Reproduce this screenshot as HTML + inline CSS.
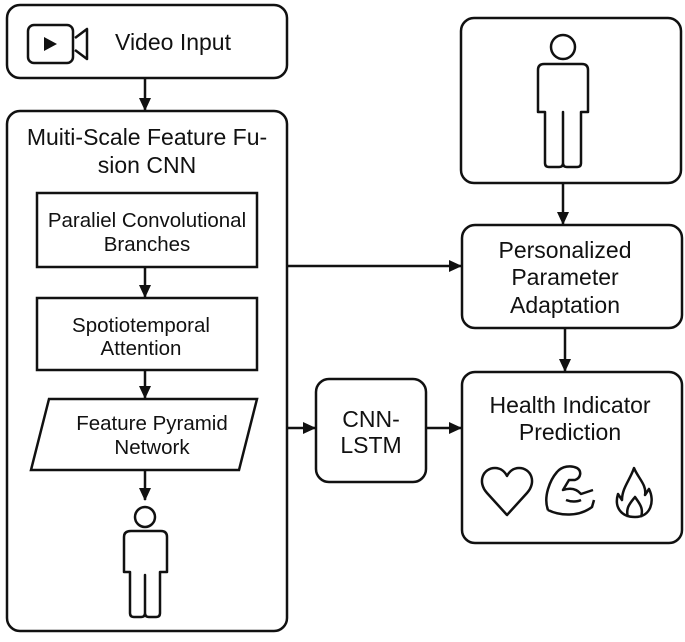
<!DOCTYPE html>
<html><head><style>
body{margin:0;background:#fff;}
svg text{font-family:"Liberation Sans",sans-serif;fill:#111;text-anchor:middle;}
</style></head><body>
<svg width="685" height="637" viewBox="0 0 685 637" xmlns="http://www.w3.org/2000/svg">
<defs><marker id="a" markerWidth="13" markerHeight="12" refX="12" refY="6" orient="auto" markerUnits="userSpaceOnUse"><path d="M0,0 L13,6 L0,12 z" fill="#111"/></marker></defs>
<g fill="none" stroke="#111" stroke-width="2.5">
<rect x="7" y="5" width="280" height="73" rx="13"/>
<rect x="7" y="111" width="280" height="520" rx="13"/>
<rect x="37" y="193" width="220" height="74"/>
<rect x="37" y="298" width="220" height="72"/>
<path d="M49,399 L257,399 L239,470 L31,470 Z"/>
<rect x="461" y="18" width="220" height="165" rx="13"/>
<rect x="462" y="225" width="220" height="103" rx="13"/>
<rect x="462" y="372" width="220" height="171" rx="13"/>
<rect x="316" y="379" width="110" height="103" rx="13"/>
</g>
<g stroke="#111" stroke-width="2.5" marker-end="url(#a)">
<line x1="145" y1="78" x2="145" y2="110"/>
<line x1="145" y1="267" x2="145" y2="297"/>
<line x1="145" y1="370" x2="145" y2="398"/>
<line x1="145" y1="470" x2="145" y2="500"/>
<line x1="563" y1="183" x2="563" y2="224"/>
<line x1="565" y1="328" x2="565" y2="371"/>
<line x1="287" y1="266" x2="461" y2="266"/>
<line x1="287" y1="428" x2="315" y2="428"/>
<line x1="426" y1="428" x2="461" y2="428"/>
</g>
<!-- camera -->
<g fill="none" stroke="#111" stroke-width="2.5" stroke-linejoin="round">
<rect x="28" y="25" width="45" height="38" rx="6"/>
<path d="M75,38 L87,29 L87,59 L75,50"/>
</g>
<path d="M44,37 L57,44 L44,51 Z" fill="#111"/>
<!-- persons -->
<g fill="none" stroke="#111" stroke-width="2.5" stroke-linejoin="round">
<circle cx="563" cy="47" r="12"/>
<path d="M544,64 L582,64 Q588,64 588,70 L588,112 L581,112 L581,163 Q581,167 577,167 L567,167 Q563,167 563,163 L563,112 L563,163 Q563,167 559,167 L549,167 Q545,167 545,163 L545,112 L538,112 L538,70 Q538,64 544,64 Z"/>
<circle cx="145" cy="517" r="10"/>
<path d="M131,531 L161,531 Q167,531 167,537 L167,572 L160,572 L160,613 Q160,617 156,617 L149,617 Q145,617 145,613 L145,575 L145,613 Q145,617 141,617 L134,617 Q130,617 130,613 L130,572 L124,572 L124,537 Q124,531 131,531 Z"/>
<!-- heart -->
<path d="M507,515 L487,493 C477,482 483,468 495,468 C501,468 505,472 507,476 C509,472 513,468 519,468 C531,468 537,482 527,493 Z"/>
<!-- arm -->
<path d="M548,510 C543,497 550,480 557,472 C562,466 571,465 577,468 C582,471 581,478 575,480 L569,480 L563,490 C569,488 576,488 581,494 L593,490 M548,510 C560,516 579,517 592,507 L594,500 M566,500 C571,502 577,502 581,500"/>
<!-- flame -->
<path d="M635,517 C621,517 614,507 618,494 L622,500 C622,488 630,480 634,468 C638,478 647,485 645,495 L649,489 C655,501 651,517 635,517 Z M628,517 C625,508 631,502 635,497 C639,503 644,508 641,517"/>
</g>
<g font-size="23">
<text x="173" y="50">Video Input</text>
<text x="147" y="145">Muiti-Scale Feature Fu-</text>
<text x="147" y="173">sion CNN</text>
<text x="565" y="258">Personalized</text>
<text x="565" y="285">Parameter</text>
<text x="565" y="313">Adaptation</text>
<text x="570" y="413">Health Indicator</text>
<text x="570" y="440">Prediction</text>
<text x="371" y="427">CNN-</text>
<text x="371" y="453">LSTM</text>
</g>
<g font-size="20.5">
<text x="147" y="227">Paraliel Convolutional</text>
<text x="147" y="251">Branches</text>
<text x="141" y="332">Spotiotemporal</text>
<text x="141" y="355">Attention</text>
<text x="152" y="430">Feature Pyramid</text>
<text x="152" y="454">Network</text>
</g>
</svg>
</body></html>
